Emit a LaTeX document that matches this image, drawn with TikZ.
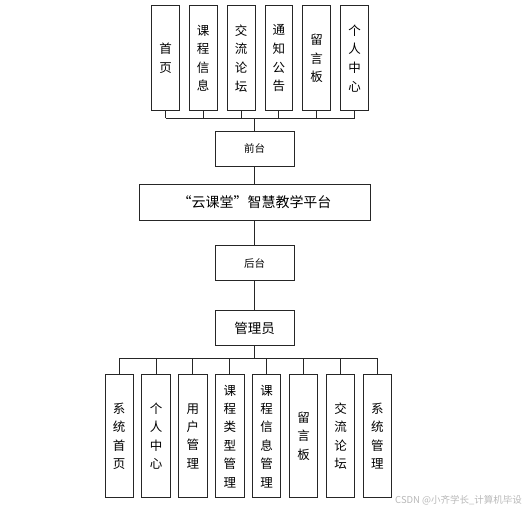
\documentclass[tikz,border=0pt]{standalone}
\usepackage{fontspec}
\setmainfont{Noto Sans CJK SC}
\begin{document}
\begin{tikzpicture}[x=1pt,y=-1pt,
  box/.style={draw=black!85,line width=0.9pt,inner sep=0pt,align=center,fill=white},
  topbox/.style={box,minimum width=27.6pt,minimum height=105.3pt,font=\fontsize{12.5}{18.6}\selectfont},
  botbox/.style={box,minimum width=28.3pt,minimum height=123pt,font=\fontsize{12.5}{18.4}\selectfont},
  midbox/.style={box,minimum width=79pt,minimum height=35pt},
  link/.style={draw=black!85,line width=0.9pt}]
\useasboundingbox (0,0) rectangle (531,511);
% top boxes
\foreach \n/\x/\t in {t1/165.5/{首\\页},t2/203.2/{课\\程\\信\\息},t3/241.2/{交\\流\\论\\坛},t4/278.8/{通\\知\\公\\告},t5/316.7/{留\\言\\板},t6/354.7/{个\\人\\中\\心}}
  \node[topbox] (\n) at (\x,58.3) {\t};
\node[midbox,font=\fontsize{10.5}{12}\selectfont] (front) at (254.5,148.5) {前台};
\node[box,minimum width=231pt,minimum height=35.7pt,font=\fontsize{14}{16}\selectfont] (main) at (254.5,202.2) {“云课堂”智慧教学平台};
\node[midbox,font=\fontsize{10.5}{12}\selectfont] (back) at (254.5,263.3) {后台};
\node[midbox,font=\fontsize{13.5}{15}\selectfont] (admin) at (254.5,328.2) {管理员};
% bottom boxes
\foreach \n/\x/\t in {b1/119.2/{系\\统\\首\\页},b2/156/{个\\人\\中\\心},b3/192.8/{用\\户\\管\\理},b4/229.8/{课\\程\\类\\型\\管\\理},b5/266.5/{课\\程\\信\\息\\管\\理},b6/303.5/{留\\言\\板},b7/340.5/{交\\流\\论\\坛},b8/377.3/{系\\统\\管\\理}}
  \node[botbox] (\n) at (\x,436.2) {\t};
% connectors
\coordinate (topbus) at (254.5,118.3);
\coordinate (botbus) at (254.5,358.3);
\foreach \n in {t1,t2,t3,t4,t5,t6}
  \draw[link] (\n.south) -- (\n.south |- topbus);
\draw[link] (t1.south |- topbus) -- (t6.south |- topbus);
\draw[link] (topbus) -- (front.north);
\draw[link] (front) -- (main);
\draw[link] (main) -- (back);
\draw[link] (back) -- (admin);
\draw[link] (admin.south) -- (botbus);
\draw[link] (b1.north |- botbus) -- (b8.north |- botbus);
\foreach \n in {b1,b2,b3,b4,b5,b6,b7,b8}
  \draw[link] (\n.north |- botbus) -- (\n.north);
\node[anchor=west,inner sep=0pt,text=black!28,font=\fontsize{9.5}{11}\selectfont] (wm) at (395,500) {CSDN @小齐学长\_计算机毕设};
\end{tikzpicture}
\end{document}
